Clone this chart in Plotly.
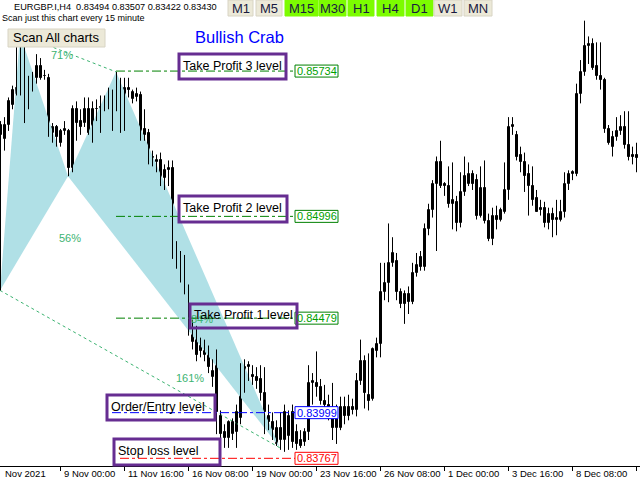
import plotly.graph_objects as go

# ---------------- data ----------------
bars = list(range(160))

open_ = [0.8541,0.8539,0.8546,0.8556,0.8565,0.8562,0.8579,0.8559,0.8565,0.8570,
         0.8576,0.8571,0.8570,0.8542,0.8545,0.8537,0.8543,0.8543,0.8524,0.8554,
         0.8548,0.8547,0.8554,0.8542,0.8554,0.8555,0.8554,0.8561,0.8555,0.8555,
         0.8564,0.8546,0.8565,0.8559,0.8560,0.8561,0.8544,0.8542,0.8530,0.8527,
         0.8528,0.8519,0.8523,0.8524,0.8481,0.8476,0.8477,0.8462,0.8436,0.8442,
         0.8434,0.8429,0.8431,0.8418,0.8424,0.8398,0.8390,0.8387,0.8389,0.8390,
         0.8397,0.8415,0.8423,0.8419,0.8418,0.8417,0.8410,0.8398,0.8395,0.8384,
         0.8392,0.8386,0.8388,0.8400,0.8390,0.8386,0.8385,0.8390,0.8415,0.8415,
         0.8413,0.8406,0.8404,0.8401,0.8392,0.8392,0.8403,0.8403,0.8403,0.8401,
         0.8416,0.8426,0.8409,0.8407,0.8431,0.8435,0.8461,0.8466,0.8476,0.8477,
         0.8461,0.8460,0.8460,0.8456,0.8471,0.8479,0.8474,0.8493,0.8503,0.8516,
         0.8527,0.8516,0.8515,0.8506,0.8507,0.8496,0.8512,0.8516,0.8521,0.8518,
         0.8500,0.8514,0.8497,0.8488,0.8500,0.8498,0.8502,0.8513,0.8545,0.8541,
         0.8531,0.8527,0.8521,0.8515,0.8509,0.8504,0.8504,0.8496,0.8501,0.8498,
         0.8498,0.8502,0.8516,0.8521,0.8521,0.8562,0.8573,0.8586,0.8587,0.8576,
         0.8571,0.8569,0.8544,0.8535,0.8540,0.8543,0.8545,0.8536,0.8531,0.8531]

high = [0.8548,0.8550,0.8560,0.8566,0.8587,0.8592,0.8587,0.8571,0.8573,0.8582,
        0.8580,0.8574,0.8572,0.8547,0.8546,0.8544,0.8548,0.8544,0.8556,0.8558,
        0.8554,0.8560,0.8560,0.8558,0.8559,0.8561,0.8561,0.8565,0.8564,0.8573,
        0.8570,0.8570,0.8570,0.8564,0.8565,0.8563,0.8554,0.8544,0.8533,0.8531,
        0.8532,0.8526,0.8528,0.8528,0.8487,0.8482,0.8480,0.8465,0.8447,0.8444,
        0.8438,0.8437,0.8434,0.8427,0.8432,0.8401,0.8394,0.8396,0.8397,0.8404,
        0.8425,0.8427,0.8426,0.8424,0.8423,0.8424,0.8423,0.8404,0.8400,0.8396,
        0.8400,0.8404,0.8401,0.8404,0.8394,0.8391,0.8392,0.8424,0.8420,0.8431,
        0.8417,0.8414,0.8409,0.8415,0.8404,0.8408,0.8408,0.8409,0.8407,0.8420,
        0.8437,0.8429,0.8430,0.8433,0.8438,0.8476,0.8476,0.8496,0.8489,0.8481,
        0.8463,0.8462,0.8464,0.8476,0.8481,0.8482,0.8496,0.8506,0.8518,0.8530,
        0.8538,0.8517,0.8525,0.8527,0.8510,0.8522,0.8530,0.8527,0.8523,0.8521,
        0.8525,0.8528,0.8501,0.8504,0.8505,0.8504,0.8527,0.8550,0.8550,0.8543,
        0.8535,0.8532,0.8526,0.8525,0.8513,0.8508,0.8507,0.8504,0.8504,0.8508,
        0.8508,0.8522,0.8523,0.8523,0.8567,0.8579,0.8599,0.8591,0.8590,0.8588,
        0.8588,0.8570,0.8546,0.8543,0.8550,0.8551,0.8553,0.8553,0.8535,0.8537]

low = [0.8462,0.8533,0.8543,0.8554,0.8561,0.8561,0.8547,0.8554,0.8563,0.8567,
       0.8569,0.8569,0.8540,0.8537,0.8535,0.8535,0.8541,0.8520,0.8522,0.8538,
       0.8541,0.8545,0.8541,0.8537,0.8548,0.8542,0.8553,0.8554,0.8543,0.8553,
       0.8542,0.8543,0.8560,0.8557,0.8558,0.8538,0.8538,0.8526,0.8525,0.8522,
       0.8515,0.8513,0.8515,0.8478,0.8473,0.8466,0.8460,0.8439,0.8432,0.8426,
       0.8428,0.8426,0.8420,0.8413,0.8389,0.8386,0.8382,0.8382,0.8386,0.8382,
       0.8394,0.8410,0.8416,0.8414,0.8412,0.8406,0.8389,0.8391,0.8386,0.8383,
       0.8381,0.8380,0.8381,0.8382,0.8381,0.8382,0.8383,0.8386,0.8404,0.8408,
       0.8404,0.8399,0.8396,0.8386,0.8384,0.8391,0.8394,0.8396,0.8399,0.8398,
       0.8414,0.8402,0.8401,0.8406,0.8428,0.8428,0.8457,0.8456,0.8474,0.8457,
       0.8453,0.8445,0.8450,0.8455,0.8469,0.8472,0.8472,0.8490,0.8499,0.8482,
       0.8514,0.8510,0.8504,0.8493,0.8492,0.8494,0.8510,0.8515,0.8513,0.8498,
       0.8499,0.8496,0.8487,0.8485,0.8493,0.8497,0.8501,0.8508,0.8541,0.8528,
       0.8522,0.8512,0.8500,0.8505,0.8502,0.8500,0.8494,0.8493,0.8489,0.8490,
       0.8497,0.8499,0.8513,0.8518,0.8520,0.8557,0.8571,0.8577,0.8574,0.8569,
       0.8564,0.8542,0.8536,0.8530,0.8538,0.8541,0.8534,0.8528,0.8526,0.8522]

close = [0.8546,0.8546,0.8558,0.8564,0.8562,0.8579,0.8559,0.8565,0.8569,0.8576,
         0.8570,0.8571,0.8542,0.8545,0.8540,0.8543,0.8544,0.8524,0.8554,0.8547,
         0.8545,0.8554,0.8542,0.8554,0.8554,0.8554,0.8558,0.8556,0.8559,0.8563,
         0.8546,0.8565,0.8564,0.8563,0.8562,0.8542,0.8541,0.8529,0.8529,0.8528,
         0.8519,0.8523,0.8524,0.8481,0.8477,0.8478,0.8462,0.8443,0.8442,0.8429,
         0.8431,0.8431,0.8423,0.8421,0.8400,0.8389,0.8387,0.8395,0.8395,0.8400,
         0.8416,0.8423,0.8424,0.8418,0.8416,0.8410,0.8400,0.8395,0.8391,0.8392,
         0.8386,0.8400,0.8398,0.8385,0.8384,0.8383,0.8390,0.8415,0.8416,0.8413,
         0.8406,0.8404,0.8401,0.8392,0.8398,0.8403,0.8398,0.8398,0.8401,0.8416,
         0.8426,0.8410,0.8406,0.8432,0.8435,0.8461,0.8466,0.8476,0.8481,0.8461,
         0.8455,0.8455,0.8456,0.8471,0.8475,0.8474,0.8493,0.8503,0.8516,0.8527,
         0.8515,0.8515,0.8506,0.8508,0.8496,0.8512,0.8520,0.8521,0.8516,0.8500,
         0.8514,0.8497,0.8488,0.8500,0.8498,0.8503,0.8513,0.8545,0.8546,0.8530,
         0.8527,0.8520,0.8515,0.8508,0.8502,0.8503,0.8496,0.8501,0.8498,0.8499,
         0.8502,0.8516,0.8521,0.8522,0.8562,0.8573,0.8586,0.8587,0.8575,0.8571,
         0.8569,0.8544,0.8537,0.8540,0.8543,0.8545,0.8536,0.8530,0.8530,0.8529]

tick_bars = [15, 31, 47, 63, 79, 95, 111, 127, 143, 159]
tick_labels = ["9 Nov 00:00", "11 Nov 16:00", "16 Nov 08:00", "19 Nov 00:00",
               "23 Nov 16:00", "26 Nov 08:00", "1 Dec 00:00", "3 Dec 16:00",
               "8 Dec 08:00", "13 Dec 00:00"]

# harmonic pattern points X, A, B, C, D
pattern_bars = [0, 5, 17, 29, 70]
pattern_prices = [0.8462, 0.8592, 0.8520, 0.8573, 0.8382]

ratio_labels = ["71%", "56%", "84%", "161%"]
ratio_bars = [15.5, 17.5, 50.5, 47.5]
ratio_prices = [0.8581, 0.8488, 0.8447, 0.8417]

level_names = ["Take Profit 3 level", "Take Profit 2 level", "Take Profit 1 level",
               "Order/Entry level", "Stop loss level"]
level_prices = [0.85734, 0.84996, 0.84479, 0.83999, 0.83767]
level_texts = ["0.85734", "0.84996", "0.84479", "0.83999", "0.83767"]
level_colors = ["#008000", "#008000", "#008000", "#0000ff", "#ff0000"]
level_text_colors = ["#00a000", "#00a000", "#00a000", "#0000ff", "#ff0000"]

timeframes = ["M1", "M5", "M15", "M30", "H1", "H4", "D1", "W1", "MN"]
tf_active = [False, False, True, True, True, True, True, False, False]

header_text = "EURGBP.I,H4  0.83494 0.83507 0.83422 0.83430"

# ---------------- geometry helpers (pixel -> paper) ----------------
W, H, PLOT_H = 640, 480, 466
Y_TOP, Y_BOT = 0.86095, 0.83728


def px(x):
    return x / W


def py(y):
    return 1 - y / PLOT_H


FONT = "Liberation Sans, Arial, sans-serif"

fig = go.Figure()

# pattern fills (X-A-B and B-C-D)
fill_color = "#b0e0e6"
fig.add_trace(go.Scatter(
    x=[pattern_bars[0], pattern_bars[1], pattern_bars[2], pattern_bars[0]],
    y=[pattern_prices[0], pattern_prices[1], pattern_prices[2], pattern_prices[0]],
    fill="toself", fillcolor=fill_color, mode="lines", line=dict(width=0, color=fill_color),
    hoverinfo="skip", showlegend=False))
fig.add_trace(go.Scatter(
    x=[pattern_bars[2], pattern_bars[3], pattern_bars[4], pattern_bars[2]],
    y=[pattern_prices[2], pattern_prices[3], pattern_prices[4], pattern_prices[2]],
    fill="toself", fillcolor=fill_color, mode="lines", line=dict(width=0, color=fill_color),
    hoverinfo="skip", showlegend=False))

# dotted ratio lines A-C and X-D
dot_green = "#3cb371"
fig.add_trace(go.Scatter(x=[pattern_bars[1], pattern_bars[3]], y=[pattern_prices[1], pattern_prices[3]],
                         mode="lines", line=dict(color=dot_green, width=1, dash="dot"),
                         hoverinfo="skip", showlegend=False))
fig.add_trace(go.Scatter(x=[pattern_bars[0], pattern_bars[4]], y=[pattern_prices[0], pattern_prices[4]],
                         mode="lines", line=dict(color=dot_green, width=1, dash="dot"),
                         hoverinfo="skip", showlegend=False))

# candles: wicks (crisp, half-pixel offset) + bodies as bars
wick_x, wick_y = [], []
for b, h, l in zip(bars, high, low):
    wick_x += [b + 0.125, b + 0.125, None]
    wick_y += [h, l, None]
fig.add_trace(go.Scatter(x=wick_x, y=wick_y, mode="lines",
                         line=dict(color="black", width=1),
                         hoverinfo="skip", showlegend=False))

body_fill = ["white" if c >= o else "black" for o, c in zip(open_, close)]
fig.add_trace(go.Bar(
    x=[b + 0.125 for b in bars],
    y=[c - o for o, c in zip(open_, close)],
    base=open_, width=0.5,
    marker=dict(color=body_fill, line=dict(color="black", width=1)),
    hoverinfo="skip", showlegend=False))

# ratio labels
fig.add_trace(go.Scatter(x=ratio_bars, y=ratio_prices, mode="text", text=ratio_labels,
                         textfont=dict(family=FONT, size=11, color=dot_green),
                         hoverinfo="skip", showlegend=False))

shapes = []
annotations = []

# level lines + price boxes
level_start = [29, 29, 29, 28, 30]
line_end_bar = 73.75
box_x0, box_x1 = 73.75, 84.5
half_h = 6 * (Y_TOP - Y_BOT) / PLOT_H
for p, t, c, tc, s in zip(level_prices, level_texts, level_colors, level_text_colors, level_start):
    shapes.append(dict(type="line", xref="x", yref="y", x0=s, x1=line_end_bar, y0=p, y1=p,
                       line=dict(color=c, width=1, dash="dashdot")))
    shapes.append(dict(type="rect", xref="x", yref="y", x0=box_x0, x1=box_x1,
                       y0=p - half_h, y1=p + half_h, fillcolor="white",
                       line=dict(color=c, width=1)))
    annotations.append(dict(xref="x", yref="y", x=(box_x0 + box_x1) / 2, y=p, text=t,
                            showarrow=False, font=dict(family=FONT, size=11, color=tc),
                            xanchor="center", yanchor="middle"))

# purple label boxes (pixel boxes: x0, x1, y0, y1)
label_boxes = [(179, 286, 54, 79), (179, 287, 196, 222), (190, 297, 304, 328),
               (107, 215, 395, 420), (114, 220, 439, 465)]
purple = "#662d91"
for name, (x0, x1, y0, y1) in zip(level_names, label_boxes):
    shapes.append(dict(type="rect", xref="paper", yref="paper",
                       x0=px(x0), x1=px(x1), y0=py(y1), y1=py(y0),
                       line=dict(color=purple, width=3), fillcolor="rgba(0,0,0,0)"))
    annotations.append(dict(xref="paper", yref="paper", x=px(x0 + 2), y=py((y0 + y1) / 2 - 1),
                            text=name, showarrow=False, xanchor="left", yanchor="middle",
                            font=dict(family=FONT, size=12.5, color="black")))

# timeframe buttons
tf_boxes = [(228, 253), (256, 282), (285, 318), (319, 346), (348, 374),
            (377, 404), (406, 433), (434, 462), (464, 492)]
for name, active, (x0, x1) in zip(timeframes, tf_active, tf_boxes):
    shapes.append(dict(type="rect", xref="paper", yref="paper",
                       x0=px(x0), x1=px(x1), y0=py(16), y1=py(0),
                       fillcolor="#7cfc00" if active else "#ece9d8",
                       line=dict(color="#d8d4c4" if not active else "#7cfc00", width=1)))
    annotations.append(dict(xref="paper", yref="paper", x=px((x0 + x1) / 2), y=py(8),
                            text=name, showarrow=False, xanchor="center", yanchor="middle",
                            font=dict(family=FONT, size=13, color="#1a1a40")))

# scan all charts button
shapes.append(dict(type="rect", xref="paper", yref="paper", x0=px(8), x1=px(105),
                   y0=py(47), y1=py(29), fillcolor="#ece9d8",
                   line=dict(color="#d8d4c4", width=1)))
annotations.append(dict(xref="paper", yref="paper", x=px(56), y=py(38), text="Scan All charts",
                        showarrow=False, xanchor="center", yanchor="middle",
                        font=dict(family=FONT, size=13, color="black")))

# header texts
annotations.append(dict(xref="paper", yref="paper", x=px(12), y=py(7), text=header_text,
                        showarrow=False, xanchor="left", yanchor="middle",
                        font=dict(family=FONT, size=9.2, color="black")))
annotations.append(dict(xref="paper", yref="paper", x=px(0), y=py(18),
                        text="Scan just this chart every 15 minute",
                        showarrow=False, xanchor="left", yanchor="middle",
                        font=dict(family=FONT, size=9, color="black")))
annotations.append(dict(xref="paper", yref="paper", x=px(239), y=py(37), text="Bullish Crab",
                        showarrow=False, xanchor="center", yanchor="middle",
                        font=dict(family=FONT, size=16.5, color="#0000ff")))

# x-axis date labels, MT4 style (left-aligned just right of each tick)
for b, t in zip(tick_bars, tick_labels):
    annotations.append(dict(xref="x", yref="paper", x=b + 0.6, y=py(473), text=t,
                            showarrow=False, xanchor="left", yanchor="middle",
                            font=dict(family=FONT, size=9.5, color="black")))
annotations.append(dict(xref="paper", yref="paper", x=px(3), y=py(473), text="Nov 2021",
                        showarrow=False, xanchor="left", yanchor="middle",
                        font=dict(family=FONT, size=9.5, color="black")))

fig.update_layout(
    template="none",
    width=W, height=H,
    margin=dict(l=0, r=0, t=0, b=H - PLOT_H, pad=0, autoexpand=False),
    paper_bgcolor="white", plot_bgcolor="white",
    showlegend=False,
    bargap=0,
    shapes=shapes,
    annotations=annotations,
    xaxis=dict(range=[0, 160], showgrid=False, zeroline=False, showline=True,
               linecolor="black", linewidth=1,
               tickmode="array", tickvals=tick_bars, showticklabels=False,
               ticks="outside", ticklen=4, tickcolor="black", tickwidth=1,
               automargin=False, fixedrange=True),
    yaxis=dict(range=[Y_BOT, Y_TOP], visible=False, showgrid=False, zeroline=False,
               automargin=False, fixedrange=True),
)

fig.write_html("out.html",
               config={"displayModeBar": False, "staticPlot": False},
               post_script="document.body.style.margin='0';document.body.style.padding='0';")
